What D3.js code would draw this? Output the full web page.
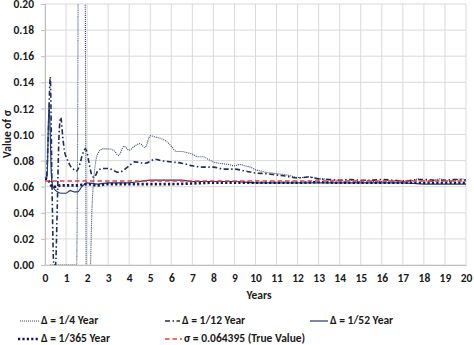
<!DOCTYPE html>
<html><head><meta charset="utf-8">
<script src="https://cdn.jsdelivr.net/npm/d3@7"></script>
<style>
body{margin:0;background:#fff;}
text{font-family:Carlito,Lato,"Liberation Sans",sans-serif;font-weight:bold;fill:#1a1a1a;}
</style></head>
<body><svg id="c" width="474" height="345"></svg>
<script>
const xTicks = [0,1,2,3,4,5,6,7,8,9,10,11,12,13,14,15,16,17,18,19,20];
const yTicks = [0,0.02,0.04,0.06,0.08,0.10,0.12,0.14,0.16,0.18,0.20];

const quarterT = [0.25,0.5,0.75,1,1.25,1.5,1.75,2,2.25,2.5,2.75,3,3.25,3.5,3.75,4,4.25,4.5,4.75,5,5.25,5.5,5.75,6,6.25,6.5,6.75,7,7.25,7.5,7.75,8,8.25,8.5,8.75,9,9.25,9.5,9.75,10,10.25,10.5,10.75,11,11.25,11.5,11.75,12,12.25,12.5,12.75,13,13.25,13.5,13.75,14,14.25,14.5,14.75,15,15.25,15.5,15.75,16,16.25,16.5,16.75,17,17.25,17.5,17.75,18,18.25,18.5,18.75,19,19.25,19.5,19.75,20];
const quarterV = [0,0,0,0,0,0,1.0,-0.1,0.05,0.085,0.089,0.089,0.088,0.084,0.091,0.088,0.091,0.093,0.090,0.099,0.098,0.097,0.095,0.091,0.087,0.087,0.086,0.085,0.083,0.083,0.081,0.079,0.078,0.0775,0.077,0.076,0.077,0.076,0.075,0.073,0.072,0.071,0.0705,0.070,0.0695,0.069,0.068,0.067,0.067,0.0675,0.067,0.066,0.066,0.065,0.065,0.065,0.064,0.065,0.064,0.064,0.065,0.064,0.064,0.064,0.065,0.064,0.065,0.064,0.064,0.065,0.066,0.065,0.064,0.065,0.066,0.065,0.064,0.065,0.066,0.065];

const monthT = [0.083,0.167,0.25,0.333,0.417,0.5,0.583,0.667,0.75,0.833,0.917,1,1.083,1.167,1.25,1.333,1.417,1.5,1.583,1.667,1.75,1.833,1.917,2,2.083,2.167,2.25,2.333,2.417,2.5,2.75,3,3.5,4,4.25,4.75,5.25,5.5,6,6.5,7,7.5,8,8.5,9,9.5,10,10.5,11,11.5,12,12.5,13,13.5,14,14.5,15,15.5,16,16.5,17,17.5,18,18.5,19,19.5,20];
const monthV = [0.068,0.105,0.144,0.060,0,0,0.045,0.100,0.113,0.100,0.088,0.083,0.080,0.077,0.075,0.074,0.072,0.072,0.074,0.078,0.083,0.087,0.089,0.086,0.079,0.072,0.068,0.067,0.069,0.072,0.074,0.074,0.071,0.076,0.079,0.078,0.081,0.080,0.079,0.078,0.076,0.075,0.075,0.0735,0.0735,0.072,0.0705,0.070,0.069,0.068,0.0667,0.0674,0.066,0.0655,0.065,0.0655,0.065,0.065,0.0655,0.065,0.0645,0.065,0.0655,0.065,0.065,0.0655,0.065];

const weekT = [0.02,0.1,0.19,0.25,0.3,0.35,0.45,0.6,0.8,1,1.2,1.4,1.55,1.75,2,2.5,3,3.5,4,4.5,5,5.5,6,6.5,7,8,9,10,11,12,13,14,15,16,17,18,19,20];
const weekV = [0.067,0.068,0.124,0.100,0.070,0.062,0.058,0.056,0.055,0.055,0.057,0.056,0.056,0.060,0.063,0.062,0.063,0.063,0.063,0.064,0.065,0.065,0.065,0.065,0.064,0.064,0.064,0.063,0.063,0.063,0.063,0.063,0.063,0.063,0.063,0.062,0.062,0.062];

const dayT = [0.003,0.1,0.2,0.35,0.5,0.75,1,1.5,2,2.5,3,4,5,6,7,8,9,10,11,12,13,14,15,16,17,18,19,20];
const dayV = [0.066,0.066,0.064,0.060,0.060,0.061,0.061,0.061,0.062,0.061,0.062,0.062,0.062,0.062,0.0625,0.063,0.063,0.063,0.063,0.063,0.0635,0.063,0.063,0.063,0.063,0.063,0.063,0.063];

const trueT = [0,20];
const trueV = [0.064395,0.064395];

const legendLabels = ["Δ = 1/4 Year","Δ = 1/12 Year","Δ = 1/52 Year","Δ = 1/365 Year","σ = 0.064395 (True Value)"];

const svg = d3.select("#c");
const x = d3.scaleLinear().domain([0,20]).range([45,466]);
const y = d3.scaleLinear().domain([0,0.2]).range([265,4]);

svg.append("defs").append("clipPath").attr("id","clip").append("rect")
  .attr("x",45).attr("y",4).attr("width",421).attr("height",261);

// grid
const g = svg.append("g");
g.selectAll(".vg").data(xTicks).enter().append("line")
  .attr("x1",d=>x(d)).attr("x2",d=>x(d)).attr("y1",y(0.2)).attr("y2",y(0))
  .attr("stroke","#d9d9d9").attr("stroke-width",1);
g.selectAll(".hg").data(yTicks).enter().append("line")
  .attr("x1",x(0)).attr("x2",x(20)).attr("y1",d=>y(d)).attr("y2",d=>y(d))
  .attr("stroke","#d9d9d9").attr("stroke-width",1);

// axes
const yAxis = d3.axisLeft(y).tickValues(yTicks).tickFormat(d3.format(".2f")).tickSize(4).tickPadding(7);
const ya = svg.append("g").attr("transform","translate(45,0)").call(yAxis);
ya.select(".domain").attr("stroke","#bfbfbf");
ya.selectAll(".tick line").attr("stroke","#bfbfbf");
ya.selectAll("text").style("font-size","11.5px").attr("fill","#1a1a1a");

const xAxis = d3.axisBottom(x).tickValues(xTicks).tickFormat(d3.format("d")).tickSize(0).tickPadding(9);
const xa = svg.append("g").attr("transform","translate(0,265)").call(xAxis);
xa.select(".domain").attr("stroke","#bfbfbf");
xa.selectAll("text").style("font-size","11.5px").attr("fill","#1a1a1a");

svg.append("text").attr("x",259).attr("y",296).attr("text-anchor","middle").attr("dominant-baseline","middle")
  .style("font-size","11.5px").text("Years");
svg.append("text").attr("transform","translate(8,134) rotate(-90)").attr("text-anchor","middle").attr("dominant-baseline","middle")
  .style("font-size","11.5px").text("Value of σ");

const series = [
  {t:quarterT, v:quarterV, color:"#33446f", w:1.1, dash:"1,1", curve:d3.curveMonotoneX},
  {t:monthT, v:monthV, color:"#1f2d5c", w:1.6, dash:"5,2.5,1.5,2.5", curve:d3.curveMonotoneX},
  {t:weekT, v:weekV, color:"#1f3a6e", w:1.2, dash:null, curve:d3.curveMonotoneX},
  {t:dayT, v:dayV, color:"#14165a", w:2.6, dash:"2.2,2.2", curve:d3.curveMonotoneX},
  {t:trueT, v:trueV, color:"#f23a3a", w:1.6, dash:"4.5,3", curve:d3.curveLinear}
];

const plot = svg.append("g").attr("clip-path","url(#clip)");
series.forEach(s=>{
  const line = d3.line().x((d,i)=>x(s.t[i])).y(d=>y(d)).curve(s.curve);
  plot.append("path").attr("d",line(s.v)).attr("fill","none")
    .attr("stroke",s.color).attr("stroke-width",s.w)
    .attr("stroke-dasharray",s.dash);
});

// legend
const legPos = [[20,321],[165,321],[310,321],[18,339],[165,339]];
const legLen = [19,15,18,21,17];
series.forEach((s,i)=>{
  const [lx,ly] = legPos[i];
  svg.append("line").attr("x1",lx).attr("x2",lx+legLen[i]).attr("y1",ly).attr("y2",ly)
    .attr("stroke",s.color).attr("stroke-width",s.w).attr("stroke-dasharray",s.dash);
  svg.append("text").attr("x",lx+legLen[i]+2).attr("y",ly).attr("dominant-baseline","middle")
    .style("font-size","11.5px").text(legendLabels[i]);
});
</script></body></html>
